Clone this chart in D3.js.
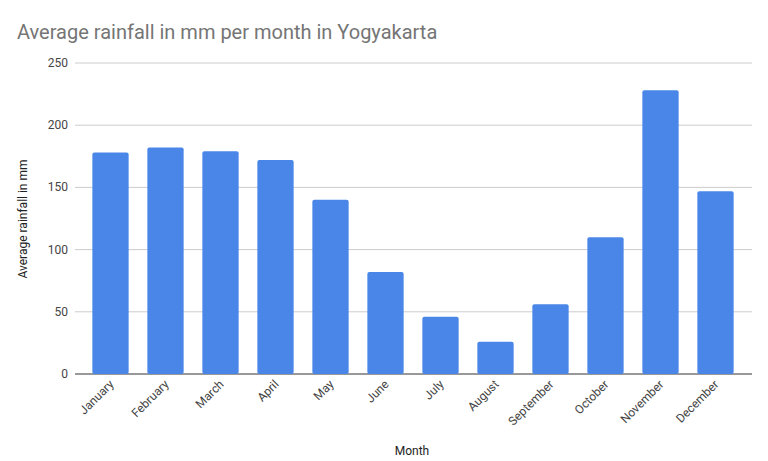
<!DOCTYPE html>
<html><head><meta charset="utf-8">
<script src="https://cdn.jsdelivr.net/npm/d3@7"></script>
<style>body{margin:0;background:#fff;font-family:Roboto,Arial,sans-serif}</style>
</head><body>
<svg id="chart" width="768" height="461"></svg>
<script>
const months = ["January","February","March","April","May","June","July","August","September","October","November","December"];
const rainfall = [178, 182, 179, 172, 140, 82, 46, 26, 56, 110, 228, 147];
const yTicks = [0, 50, 100, 150, 200, 250];

const svg = d3.select("#chart");

// echelles
const x = d3.scaleBand().domain(months).range([83, 743]).paddingInner(0.34).paddingOuter(0.17);
const y = d3.scaleLinear().domain([0, 250]).range([374, 63]);

svg.append("text").attr("x", 17).attr("y", 39)
    .attr("font-size", 20).attr("fill", "#757575").text("Average rainfall in mm per month in Yogyakarta");

// grille
svg.append("g").selectAll("line").data(yTicks).join("line")
    .attr("x1", 75).attr("x2", 752)
    .attr("y1", d => y(d)).attr("y2", d => y(d))
    .attr("stroke", d => d === 0 ? "#333" : "#ccc").attr("stroke-width", 1);

svg.append("g").selectAll("text").data(yTicks).join("text")
    .attr("x", 68).attr("y", d => y(d) + 4).attr("text-anchor", "end")
    .attr("font-size", 12).attr("fill", "#444").text(d => d);

svg.append("g").selectAll("rect").data(rainfall).join("rect")
    .attr("x", (d, i) => x(months[i])).attr("width", x.bandwidth())
    .attr("y", d => y(d)).attr("height", d => y(0) - y(d))
    .attr("rx", 2).attr("fill", "#4a86e8");

// etiquettes x
svg.append("g").selectAll("text").data(months).join("text")
    .attr("transform", d => `translate(${x(d) + x.bandwidth() / 2 + 4},${385}) rotate(-45)`)
    .attr("text-anchor", "end").attr("font-size", 12).attr("fill", "#444").text(d => d);

svg.append("text").attr("x", 412).attr("y", 455).attr("text-anchor", "middle")
    .attr("font-size", 12).attr("fill", "#222").text("Month");

svg.append("text").attr("transform", "translate(27,219) rotate(-90)").attr("text-anchor", "middle")
    .attr("font-size", 12).attr("fill", "#222").text("Average rainfall in mm");
</script>
</body></html>
